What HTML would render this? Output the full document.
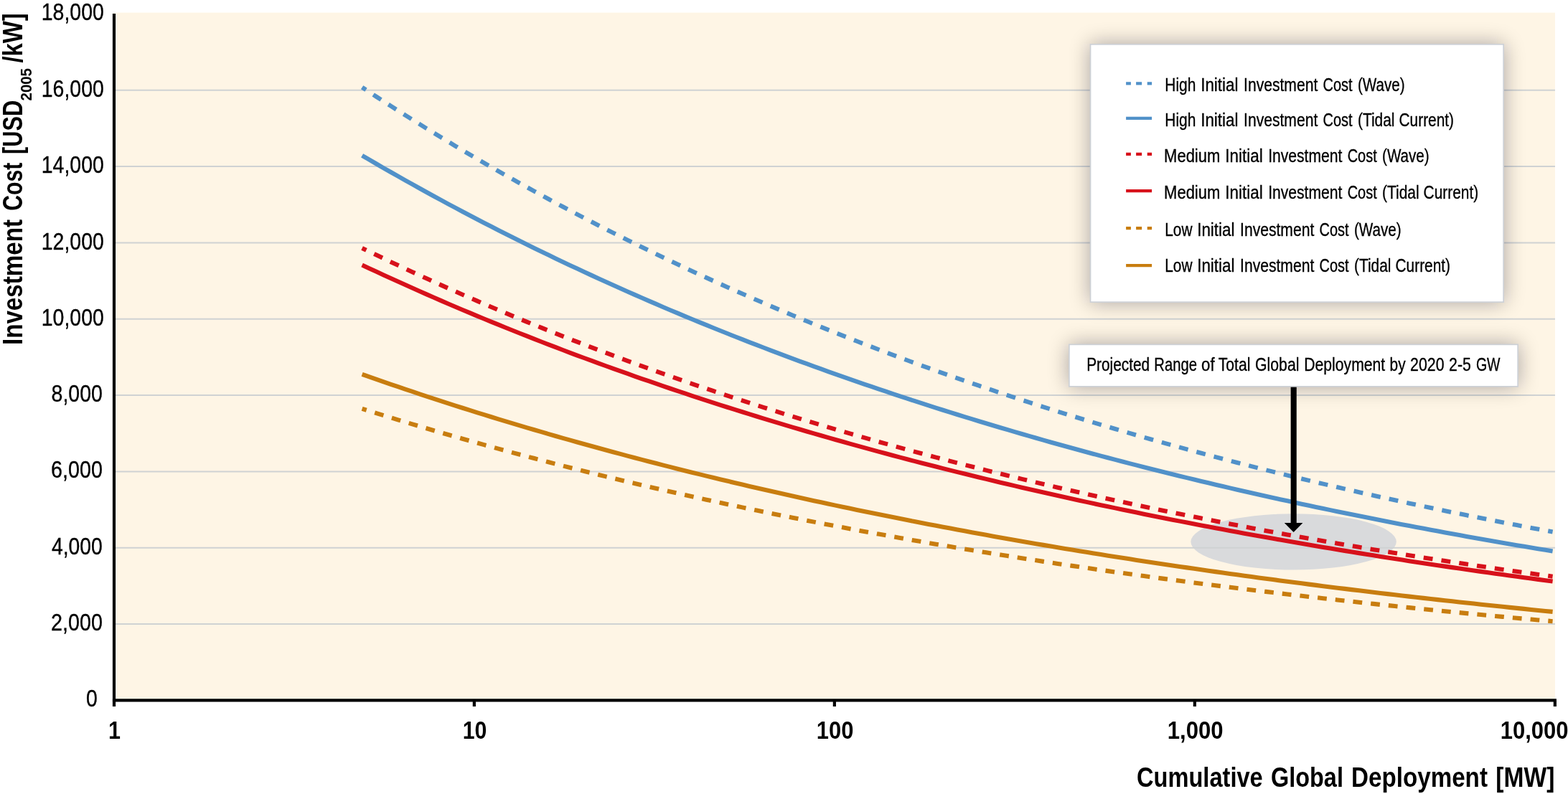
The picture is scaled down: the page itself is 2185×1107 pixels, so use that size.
<!DOCTYPE html>
<html lang="en"><head><meta charset="utf-8"><title>Investment Cost vs Cumulative Global Deployment</title>
<style>html,body{margin:0;padding:0;background:#fff;}body{width:2185px;height:1107px;overflow:hidden;}svg{display:block;}text{font-family:"Liberation Sans",sans-serif;fill:#000;}</style>
</head><body>
<svg width="2185" height="1107" viewBox="0 0 2185 1107">
<defs><filter id="sh" x="-20%" y="-120%" width="140%" height="340%"><feGaussianBlur stdDeviation="14.5"/></filter></defs>
<rect x="0" y="0" width="2185" height="1107" fill="#fff"/>
<rect x="157.0" y="17.7" width="2010.0" height="958.3" fill="#FFFDF1"/>
<rect x="162.2" y="17.7" width="2004.8" height="956.0" fill="#FEF5E5"/>
<ellipse cx="1802.6" cy="755.4" rx="143.2" ry="39.2" fill="#D9DADC"/>
<path d="M161.0,870.04H2167.0M161.0,763.72H2167.0M161.0,657.40H2167.0M161.0,551.08H2167.0M161.0,444.76H2167.0M161.0,338.44H2167.0M161.0,232.12H2167.0M161.0,125.80H2167.0" stroke="#CFD2D3" stroke-width="2" fill="none"/>
<path d="M504.6,121.70 L514.6,128.29 L524.6,134.83 L534.6,141.31 L544.6,147.75 L554.6,154.14 L564.6,160.48 L574.6,166.77 L584.6,173.01 L594.5,179.21 L604.5,185.35 L614.5,191.45 L624.5,197.51 L634.5,203.51 L644.5,209.47 L654.5,215.39 L664.5,221.26 L674.5,227.08 L684.5,232.86 L694.5,238.60 L704.5,244.29 L714.5,249.94 L724.5,255.54 L734.5,261.10 L744.5,266.62 L754.4,272.10 L764.4,277.54 L774.4,282.93 L784.4,288.28 L794.4,293.59 L804.4,298.86 L814.4,304.09 L824.4,309.28 L834.4,314.43 L844.4,319.54 L854.4,324.61 L864.4,329.64 L874.4,334.64 L884.4,339.59 L894.4,344.51 L904.4,349.39 L914.4,354.23 L924.3,359.04 L934.3,363.81 L944.3,368.54 L954.3,373.23 L964.3,377.89 L974.3,382.52 L984.3,387.11 L994.3,391.66 L1004.3,396.18 L1014.3,400.66 L1024.3,405.11 L1034.3,409.52 L1044.3,413.91 L1054.3,418.25 L1064.3,422.57 L1074.3,426.85 L1084.3,431.10 L1094.2,435.31 L1104.2,439.50 L1114.2,443.65 L1124.2,447.77 L1134.2,451.86 L1144.2,455.91 L1154.2,459.94 L1164.2,463.93 L1174.2,467.90 L1184.2,471.83 L1194.2,475.74 L1204.2,479.61 L1214.2,483.45 L1224.2,487.27 L1234.2,491.05 L1244.2,494.81 L1254.1,498.54 L1264.1,502.24 L1274.1,505.91 L1284.1,509.55 L1294.1,513.16 L1304.1,516.75 L1314.1,520.31 L1324.1,523.84 L1334.1,527.35 L1344.1,530.82 L1354.1,534.27 L1364.1,537.70 L1374.1,541.10 L1384.1,544.47 L1394.1,547.82 L1404.1,551.14 L1414.1,554.43 L1424.0,557.70 L1434.0,560.95 L1444.0,564.17 L1454.0,567.37 L1464.0,570.54 L1474.0,573.68 L1484.0,576.81 L1494.0,579.91 L1504.0,582.98 L1514.0,586.03 L1524.0,589.06 L1534.0,592.06 L1544.0,595.05 L1554.0,598.01 L1564.0,600.94 L1574.0,603.86 L1583.9,606.75 L1593.9,609.62 L1603.9,612.46 L1613.9,615.29 L1623.9,618.09 L1633.9,620.88 L1643.9,623.64 L1653.9,626.38 L1663.9,629.09 L1673.9,631.79 L1683.9,634.47 L1693.9,637.13 L1703.9,639.76 L1713.9,642.38 L1723.9,644.98 L1733.9,647.55 L1743.9,650.11 L1753.8,652.64 L1763.8,655.16 L1773.8,657.66 L1783.8,660.14 L1793.8,662.60 L1803.8,665.04 L1813.8,667.46 L1823.8,669.87 L1833.8,672.25 L1843.8,674.62 L1853.8,676.97 L1863.8,679.30 L1873.8,681.61 L1883.8,683.91 L1893.8,686.18 L1903.8,688.44 L1913.8,690.69 L1923.7,692.91 L1933.7,695.12 L1943.7,697.31 L1953.7,699.49 L1963.7,701.65 L1973.7,703.79 L1983.7,705.91 L1993.7,708.02 L2003.7,710.12 L2013.7,712.19 L2023.7,714.25 L2033.7,716.30 L2043.7,718.33 L2053.7,720.34 L2063.7,722.34 L2073.7,724.32 L2083.6,726.29 L2093.6,728.24 L2103.6,730.18 L2113.6,732.10 L2123.6,734.01 L2133.6,735.91 L2143.6,737.79 L2153.6,739.65 L2163.6,741.50" stroke="#5191C9" stroke-width="6.1" fill="none" stroke-dasharray="12.935 12.182" stroke-dashoffset="6.468"/>
<path d="M504.6,216.80 L514.6,222.67 L524.6,228.49 L534.6,234.27 L544.6,240.01 L554.6,245.70 L564.6,251.35 L574.6,256.95 L584.6,262.51 L594.5,268.03 L604.5,273.51 L614.5,278.94 L624.5,284.33 L634.5,289.68 L644.5,294.99 L654.5,300.26 L664.5,305.49 L674.5,310.68 L684.5,315.83 L694.5,320.94 L704.5,326.01 L714.5,331.04 L724.5,336.03 L734.5,340.98 L744.5,345.90 L754.4,350.78 L764.4,355.62 L774.4,360.42 L784.4,365.19 L794.4,369.92 L804.4,374.61 L814.4,379.27 L824.4,383.89 L834.4,388.47 L844.4,393.03 L854.4,397.54 L864.4,402.02 L874.4,406.47 L884.4,410.88 L894.4,415.26 L904.4,419.61 L914.4,423.92 L924.3,428.20 L934.3,432.44 L944.3,436.66 L954.3,440.84 L964.3,444.99 L974.3,449.10 L984.3,453.19 L994.3,457.24 L1004.3,461.26 L1014.3,465.26 L1024.3,469.22 L1034.3,473.15 L1044.3,477.05 L1054.3,480.92 L1064.3,484.76 L1074.3,488.57 L1084.3,492.35 L1094.2,496.11 L1104.2,499.83 L1114.2,503.53 L1124.2,507.19 L1134.2,510.83 L1144.2,514.44 L1154.2,518.03 L1164.2,521.58 L1174.2,525.11 L1184.2,528.61 L1194.2,532.09 L1204.2,535.54 L1214.2,538.96 L1224.2,542.35 L1234.2,545.72 L1244.2,549.06 L1254.1,552.38 L1264.1,555.67 L1274.1,558.94 L1284.1,562.18 L1294.1,565.40 L1304.1,568.59 L1314.1,571.76 L1324.1,574.90 L1334.1,578.02 L1344.1,581.12 L1354.1,584.19 L1364.1,587.23 L1374.1,590.26 L1384.1,593.26 L1394.1,596.24 L1404.1,599.19 L1414.1,602.13 L1424.0,605.04 L1434.0,607.92 L1444.0,610.79 L1454.0,613.63 L1464.0,616.45 L1474.0,619.25 L1484.0,622.03 L1494.0,624.79 L1504.0,627.52 L1514.0,630.24 L1524.0,632.93 L1534.0,635.61 L1544.0,638.26 L1554.0,640.89 L1564.0,643.50 L1574.0,646.10 L1583.9,648.67 L1593.9,651.22 L1603.9,653.75 L1613.9,656.27 L1623.9,658.76 L1633.9,661.24 L1643.9,663.69 L1653.9,666.13 L1663.9,668.55 L1673.9,670.95 L1683.9,673.33 L1693.9,675.69 L1703.9,678.04 L1713.9,680.36 L1723.9,682.67 L1733.9,684.96 L1743.9,687.24 L1753.8,689.49 L1763.8,691.73 L1773.8,693.96 L1783.8,696.16 L1793.8,698.35 L1803.8,700.52 L1813.8,702.67 L1823.8,704.81 L1833.8,706.93 L1843.8,709.04 L1853.8,711.13 L1863.8,713.20 L1873.8,715.26 L1883.8,717.30 L1893.8,719.32 L1903.8,721.33 L1913.8,723.33 L1923.7,725.30 L1933.7,727.27 L1943.7,729.22 L1953.7,731.15 L1963.7,733.07 L1973.7,734.97 L1983.7,736.86 L1993.7,738.74 L2003.7,740.60 L2013.7,742.45 L2023.7,744.28 L2033.7,746.10 L2043.7,747.90 L2053.7,749.69 L2063.7,751.47 L2073.7,753.23 L2083.6,754.98 L2093.6,756.72 L2103.6,758.44 L2113.6,760.15 L2123.6,761.84 L2133.6,763.53 L2143.6,765.20 L2153.6,766.86 L2163.6,768.50" stroke="#5191C9" stroke-width="6.1" fill="none"/>
<path d="M504.6,345.90 L514.6,350.76 L524.6,355.59 L534.6,360.38 L544.6,365.13 L554.6,369.85 L564.6,374.52 L574.6,379.17 L584.6,383.78 L594.5,388.35 L604.5,392.89 L614.5,397.39 L624.5,401.86 L634.5,406.29 L644.5,410.69 L654.5,415.06 L664.5,419.39 L674.5,423.69 L684.5,427.96 L694.5,432.20 L704.5,436.40 L714.5,440.57 L724.5,444.71 L734.5,448.81 L744.5,452.89 L754.4,456.93 L764.4,460.94 L774.4,464.93 L784.4,468.88 L794.4,472.80 L804.4,476.69 L814.4,480.55 L824.4,484.38 L834.4,488.19 L844.4,491.96 L854.4,495.70 L864.4,499.42 L874.4,503.11 L884.4,506.77 L894.4,510.40 L904.4,514.00 L914.4,517.58 L924.3,521.13 L934.3,524.65 L944.3,528.14 L954.3,531.61 L964.3,535.05 L974.3,538.46 L984.3,541.85 L994.3,545.21 L1004.3,548.55 L1014.3,551.86 L1024.3,555.15 L1034.3,558.41 L1044.3,561.64 L1054.3,564.86 L1064.3,568.04 L1074.3,571.20 L1084.3,574.34 L1094.2,577.46 L1104.2,580.55 L1114.2,583.61 L1124.2,586.65 L1134.2,589.67 L1144.2,592.67 L1154.2,595.64 L1164.2,598.59 L1174.2,601.52 L1184.2,604.43 L1194.2,607.31 L1204.2,610.17 L1214.2,613.01 L1224.2,615.83 L1234.2,618.63 L1244.2,621.40 L1254.1,624.15 L1264.1,626.89 L1274.1,629.60 L1284.1,632.29 L1294.1,634.96 L1304.1,637.61 L1314.1,640.24 L1324.1,642.85 L1334.1,645.44 L1344.1,648.01 L1354.1,650.56 L1364.1,653.09 L1374.1,655.60 L1384.1,658.09 L1394.1,660.56 L1404.1,663.01 L1414.1,665.45 L1424.0,667.86 L1434.0,670.26 L1444.0,672.64 L1454.0,675.00 L1464.0,677.35 L1474.0,679.67 L1484.0,681.98 L1494.0,684.27 L1504.0,686.54 L1514.0,688.79 L1524.0,691.03 L1534.0,693.25 L1544.0,695.46 L1554.0,697.64 L1564.0,699.81 L1574.0,701.96 L1583.9,704.10 L1593.9,706.22 L1603.9,708.33 L1613.9,710.41 L1623.9,712.48 L1633.9,714.54 L1643.9,716.58 L1653.9,718.61 L1663.9,720.61 L1673.9,722.61 L1683.9,724.59 L1693.9,726.55 L1703.9,728.50 L1713.9,730.43 L1723.9,732.35 L1733.9,734.25 L1743.9,736.14 L1753.8,738.02 L1763.8,739.88 L1773.8,741.73 L1783.8,743.56 L1793.8,745.38 L1803.8,747.18 L1813.8,748.97 L1823.8,750.75 L1833.8,752.51 L1843.8,754.26 L1853.8,756.00 L1863.8,757.72 L1873.8,759.43 L1883.8,761.12 L1893.8,762.81 L1903.8,764.48 L1913.8,766.14 L1923.7,767.78 L1933.7,769.41 L1943.7,771.03 L1953.7,772.64 L1963.7,774.24 L1973.7,775.82 L1983.7,777.39 L1993.7,778.95 L2003.7,780.50 L2013.7,782.03 L2023.7,783.56 L2033.7,785.07 L2043.7,786.57 L2053.7,788.06 L2063.7,789.53 L2073.7,791.00 L2083.6,792.46 L2093.6,793.90 L2103.6,795.33 L2113.6,796.75 L2123.6,798.16 L2133.6,799.56 L2143.6,800.95 L2153.6,802.33 L2163.6,803.70" stroke="#D7111B" stroke-width="6.1" fill="none" stroke-dasharray="12.900 12.149" stroke-dashoffset="6.450"/>
<path d="M504.6,369.50 L514.6,374.19 L524.6,378.84 L534.6,383.45 L544.6,388.03 L554.6,392.58 L564.6,397.09 L574.6,401.56 L584.6,406.00 L594.5,410.41 L604.5,414.78 L614.5,419.12 L624.5,423.43 L634.5,427.70 L644.5,431.94 L654.5,436.15 L664.5,440.33 L674.5,444.47 L684.5,448.58 L694.5,452.66 L704.5,456.71 L714.5,460.73 L724.5,464.72 L734.5,468.68 L744.5,472.60 L754.4,476.50 L764.4,480.37 L774.4,484.20 L784.4,488.01 L794.4,491.79 L804.4,495.54 L814.4,499.26 L824.4,502.95 L834.4,506.62 L844.4,510.25 L854.4,513.86 L864.4,517.44 L874.4,520.99 L884.4,524.52 L894.4,528.02 L904.4,531.49 L914.4,534.93 L924.3,538.35 L934.3,541.75 L944.3,545.11 L954.3,548.45 L964.3,551.77 L974.3,555.06 L984.3,558.32 L994.3,561.56 L1004.3,564.78 L1014.3,567.97 L1024.3,571.13 L1034.3,574.27 L1044.3,577.39 L1054.3,580.48 L1064.3,583.55 L1074.3,586.60 L1084.3,589.62 L1094.2,592.62 L1104.2,595.60 L1114.2,598.55 L1124.2,601.48 L1134.2,604.39 L1144.2,607.28 L1154.2,610.14 L1164.2,612.99 L1174.2,615.81 L1184.2,618.61 L1194.2,621.38 L1204.2,624.14 L1214.2,626.87 L1224.2,629.59 L1234.2,632.28 L1244.2,634.95 L1254.1,637.61 L1264.1,640.24 L1274.1,642.85 L1284.1,645.44 L1294.1,648.01 L1304.1,650.57 L1314.1,653.10 L1324.1,655.61 L1334.1,658.11 L1344.1,660.58 L1354.1,663.04 L1364.1,665.47 L1374.1,667.89 L1384.1,670.29 L1394.1,672.67 L1404.1,675.04 L1414.1,677.38 L1424.0,679.71 L1434.0,682.02 L1444.0,684.31 L1454.0,686.58 L1464.0,688.84 L1474.0,691.08 L1484.0,693.30 L1494.0,695.51 L1504.0,697.69 L1514.0,699.86 L1524.0,702.02 L1534.0,704.16 L1544.0,706.28 L1554.0,708.39 L1564.0,710.47 L1574.0,712.55 L1583.9,714.61 L1593.9,716.65 L1603.9,718.67 L1613.9,720.68 L1623.9,722.68 L1633.9,724.66 L1643.9,726.62 L1653.9,728.57 L1663.9,730.51 L1673.9,732.43 L1683.9,734.33 L1693.9,736.22 L1703.9,738.10 L1713.9,739.96 L1723.9,741.81 L1733.9,743.64 L1743.9,745.46 L1753.8,747.27 L1763.8,749.06 L1773.8,750.84 L1783.8,752.60 L1793.8,754.35 L1803.8,756.09 L1813.8,757.81 L1823.8,759.52 L1833.8,761.22 L1843.8,762.90 L1853.8,764.57 L1863.8,766.23 L1873.8,767.88 L1883.8,769.51 L1893.8,771.13 L1903.8,772.74 L1913.8,774.34 L1923.7,775.92 L1933.7,777.49 L1943.7,779.05 L1953.7,780.60 L1963.7,782.14 L1973.7,783.66 L1983.7,785.17 L1993.7,786.68 L2003.7,788.16 L2013.7,789.64 L2023.7,791.11 L2033.7,792.56 L2043.7,794.01 L2053.7,795.44 L2063.7,796.86 L2073.7,798.28 L2083.6,799.68 L2093.6,801.07 L2103.6,802.44 L2113.6,803.81 L2123.6,805.17 L2133.6,806.52 L2143.6,807.86 L2153.6,809.18 L2163.6,810.50" stroke="#D7111B" stroke-width="6.1" fill="none"/>
<path d="M504.6,521.90 L514.6,525.42 L524.6,528.91 L534.6,532.37 L544.6,535.81 L554.6,539.22 L564.6,542.60 L574.6,545.96 L584.6,549.29 L594.5,552.60 L604.5,555.88 L614.5,559.14 L624.5,562.37 L634.5,565.57 L644.5,568.76 L654.5,571.91 L664.5,575.05 L674.5,578.16 L684.5,581.24 L694.5,584.31 L704.5,587.34 L714.5,590.36 L724.5,593.35 L734.5,596.32 L744.5,599.27 L754.4,602.19 L764.4,605.09 L774.4,607.97 L784.4,610.83 L794.4,613.67 L804.4,616.48 L814.4,619.27 L824.4,622.04 L834.4,624.79 L844.4,627.52 L854.4,630.23 L864.4,632.92 L874.4,635.58 L884.4,638.23 L894.4,640.85 L904.4,643.46 L914.4,646.04 L924.3,648.61 L934.3,651.16 L944.3,653.68 L954.3,656.19 L964.3,658.68 L974.3,661.15 L984.3,663.60 L994.3,666.03 L1004.3,668.44 L1014.3,670.84 L1024.3,673.21 L1034.3,675.57 L1044.3,677.91 L1054.3,680.23 L1064.3,682.53 L1074.3,684.82 L1084.3,687.09 L1094.2,689.34 L1104.2,691.57 L1114.2,693.79 L1124.2,695.99 L1134.2,698.17 L1144.2,700.34 L1154.2,702.49 L1164.2,704.62 L1174.2,706.74 L1184.2,708.84 L1194.2,710.93 L1204.2,713.00 L1214.2,715.05 L1224.2,717.09 L1234.2,719.11 L1244.2,721.11 L1254.1,723.10 L1264.1,725.08 L1274.1,727.04 L1284.1,728.99 L1294.1,730.92 L1304.1,732.83 L1314.1,734.73 L1324.1,736.62 L1334.1,738.49 L1344.1,740.35 L1354.1,742.19 L1364.1,744.02 L1374.1,745.84 L1384.1,747.64 L1394.1,749.43 L1404.1,751.20 L1414.1,752.96 L1424.0,754.71 L1434.0,756.44 L1444.0,758.16 L1454.0,759.87 L1464.0,761.56 L1474.0,763.24 L1484.0,764.91 L1494.0,766.56 L1504.0,768.21 L1514.0,769.84 L1524.0,771.45 L1534.0,773.06 L1544.0,774.65 L1554.0,776.23 L1564.0,777.80 L1574.0,779.36 L1583.9,780.90 L1593.9,782.44 L1603.9,783.96 L1613.9,785.47 L1623.9,786.96 L1633.9,788.45 L1643.9,789.93 L1653.9,791.39 L1663.9,792.84 L1673.9,794.28 L1683.9,795.71 L1693.9,797.13 L1703.9,798.54 L1713.9,799.94 L1723.9,801.33 L1733.9,802.70 L1743.9,804.07 L1753.8,805.42 L1763.8,806.77 L1773.8,808.10 L1783.8,809.43 L1793.8,810.74 L1803.8,812.04 L1813.8,813.34 L1823.8,814.62 L1833.8,815.90 L1843.8,817.16 L1853.8,818.42 L1863.8,819.66 L1873.8,820.90 L1883.8,822.13 L1893.8,823.34 L1903.8,824.55 L1913.8,825.75 L1923.7,826.94 L1933.7,828.12 L1943.7,829.29 L1953.7,830.45 L1963.7,831.60 L1973.7,832.75 L1983.7,833.88 L1993.7,835.01 L2003.7,836.13 L2013.7,837.24 L2023.7,838.34 L2033.7,839.43 L2043.7,840.52 L2053.7,841.59 L2063.7,842.66 L2073.7,843.72 L2083.6,844.77 L2093.6,845.82 L2103.6,846.85 L2113.6,847.88 L2123.6,848.90 L2133.6,849.91 L2143.6,850.91 L2153.6,851.91 L2163.6,852.90" stroke="#C87D0F" stroke-width="6.1" fill="none"/>
<path d="M504.6,569.80 L514.6,572.95 L524.6,576.07 L534.6,579.17 L544.6,582.25 L554.6,585.30 L564.6,588.33 L574.6,591.34 L584.6,594.32 L594.5,597.28 L604.5,600.22 L614.5,603.14 L624.5,606.03 L634.5,608.90 L644.5,611.75 L654.5,614.58 L664.5,617.38 L674.5,620.17 L684.5,622.93 L694.5,625.67 L704.5,628.39 L714.5,631.09 L724.5,633.77 L734.5,636.43 L744.5,639.07 L754.4,641.69 L764.4,644.28 L774.4,646.86 L784.4,649.42 L794.4,651.96 L804.4,654.48 L814.4,656.98 L824.4,659.46 L834.4,661.92 L844.4,664.36 L854.4,666.79 L864.4,669.19 L874.4,671.58 L884.4,673.95 L894.4,676.30 L904.4,678.63 L914.4,680.95 L924.3,683.25 L934.3,685.53 L944.3,687.79 L954.3,690.03 L964.3,692.26 L974.3,694.47 L984.3,696.67 L994.3,698.84 L1004.3,701.00 L1014.3,703.15 L1024.3,705.28 L1034.3,707.39 L1044.3,709.48 L1054.3,711.56 L1064.3,713.62 L1074.3,715.67 L1084.3,717.70 L1094.2,719.72 L1104.2,721.72 L1114.2,723.70 L1124.2,725.67 L1134.2,727.63 L1144.2,729.57 L1154.2,731.49 L1164.2,733.40 L1174.2,735.30 L1184.2,737.18 L1194.2,739.05 L1204.2,740.90 L1214.2,742.74 L1224.2,744.56 L1234.2,746.37 L1244.2,748.17 L1254.1,749.95 L1264.1,751.72 L1274.1,753.48 L1284.1,755.22 L1294.1,756.95 L1304.1,758.66 L1314.1,760.37 L1324.1,762.05 L1334.1,763.73 L1344.1,765.39 L1354.1,767.05 L1364.1,768.68 L1374.1,770.31 L1384.1,771.92 L1394.1,773.52 L1404.1,775.11 L1414.1,776.69 L1424.0,778.25 L1434.0,779.80 L1444.0,781.35 L1454.0,782.87 L1464.0,784.39 L1474.0,785.90 L1484.0,787.39 L1494.0,788.87 L1504.0,790.34 L1514.0,791.80 L1524.0,793.25 L1534.0,794.69 L1544.0,796.12 L1554.0,797.53 L1564.0,798.94 L1574.0,800.33 L1583.9,801.71 L1593.9,803.09 L1603.9,804.45 L1613.9,805.80 L1623.9,807.14 L1633.9,808.47 L1643.9,809.79 L1653.9,811.10 L1663.9,812.41 L1673.9,813.70 L1683.9,814.98 L1693.9,816.25 L1703.9,817.51 L1713.9,818.76 L1723.9,820.00 L1733.9,821.24 L1743.9,822.46 L1753.8,823.67 L1763.8,824.88 L1773.8,826.07 L1783.8,827.26 L1793.8,828.44 L1803.8,829.61 L1813.8,830.76 L1823.8,831.91 L1833.8,833.06 L1843.8,834.19 L1853.8,835.31 L1863.8,836.43 L1873.8,837.54 L1883.8,838.63 L1893.8,839.72 L1903.8,840.81 L1913.8,841.88 L1923.7,842.94 L1933.7,844.00 L1943.7,845.05 L1953.7,846.09 L1963.7,847.12 L1973.7,848.15 L1983.7,849.17 L1993.7,850.18 L2003.7,851.18 L2013.7,852.17 L2023.7,853.16 L2033.7,854.14 L2043.7,855.11 L2053.7,856.07 L2063.7,857.03 L2073.7,857.98 L2083.6,858.92 L2093.6,859.85 L2103.6,860.78 L2113.6,861.70 L2123.6,862.62 L2133.6,863.52 L2143.6,864.42 L2153.6,865.31 L2163.6,866.20" stroke="#C87D0F" stroke-width="6.1" fill="none" stroke-dasharray="12.789 12.044" stroke-dashoffset="6.394"/>
<path d="M159.0,19V985" stroke="#000" stroke-width="4.2" fill="none"/>
<path d="M156.9,976.4H2168.9" stroke="#000" stroke-width="4.1" fill="none"/>
<path d="M660.85,976.4V985M1162.85,976.4V985M1664.85,976.4V985M2166.85,976.4V985" stroke="#000" stroke-width="4.2" fill="none"/>
<rect x="1518.7" y="61.0" width="577.3" height="361.0" fill="#000018" opacity="0.33" filter="url(#sh)"/>
<rect x="1519.55" y="61.85" width="575.6" height="359.3" fill="#fff" stroke="#CDD1D6" stroke-width="1.7"/>
<rect x="1489.0" y="479.5" width="627.0" height="60.2" fill="#000018" opacity="0.33" filter="url(#sh)"/>
<rect x="1489.85" y="480.35" width="625.3" height="58.5" fill="#fff" stroke="#CDD1D6" stroke-width="1.7"/>
<path d="M1569.1,116.40H1575.9M1583.1,116.40H1591.15M1598.7,116.40H1605.1" stroke="#5191C9" stroke-width="4.3" fill="none"/>
<path d="M1569.1,164.90H1605.1" stroke="#5191C9" stroke-width="4.3" fill="none"/>
<path d="M1569.1,214.80H1575.9M1583.1,214.80H1591.15M1598.7,214.80H1605.1" stroke="#D7111B" stroke-width="4.3" fill="none"/>
<path d="M1569.1,266.10H1605.1" stroke="#D7111B" stroke-width="4.3" fill="none"/>
<path d="M1569.1,318.10H1575.9M1583.1,318.10H1591.15M1598.7,318.10H1605.1" stroke="#C87D0F" stroke-width="4.3" fill="none"/>
<path d="M1569.1,370.10H1605.1" stroke="#C87D0F" stroke-width="4.3" fill="none"/>
<path d="M1802.7,539.7V731" stroke="#000" stroke-width="8.1" fill="none"/>
<path d="M1789.8,729H1815.4L1802.6,742Z" fill="#000"/>
<text transform="translate(57.72,28.00) scale(0.8761,1)" font-size="32.5" font-weight="400" stroke="#000" stroke-width="0.35">18,000</text>
<text transform="translate(57.72,134.90) scale(0.8761,1)" font-size="32.5" font-weight="400" stroke="#000" stroke-width="0.35">16,000</text>
<text transform="translate(57.72,241.20) scale(0.8761,1)" font-size="32.5" font-weight="400" stroke="#000" stroke-width="0.35">14,000</text>
<text transform="translate(57.72,347.70) scale(0.8761,1)" font-size="32.5" font-weight="400" stroke="#000" stroke-width="0.35">12,000</text>
<text transform="translate(57.72,453.80) scale(0.8761,1)" font-size="32.5" font-weight="400" stroke="#000" stroke-width="0.35">10,000</text>
<text transform="translate(71.51,559.90) scale(0.8779,1)" font-size="32.5" font-weight="400" stroke="#000" stroke-width="0.35">8,000</text>
<text transform="translate(71.05,666.20) scale(0.8836,1)" font-size="32.5" font-weight="400" stroke="#000" stroke-width="0.35">6,000</text>
<text transform="translate(71.96,772.50) scale(0.8724,1)" font-size="32.5" font-weight="400" stroke="#000" stroke-width="0.35">4,000</text>
<text transform="translate(71.05,878.80) scale(0.8836,1)" font-size="32.5" font-weight="400" stroke="#000" stroke-width="0.35">2,000</text>
<text transform="translate(120.11,984.90) scale(0.8738,1)" font-size="32.5" font-weight="400" stroke="#000" stroke-width="0.35">0</text>
<text transform="translate(150.89,1030.00) scale(0.8618,1)" font-size="35.4" font-weight="700">1</text>
<text transform="translate(644.81,1030.00) scale(0.8537,1)" font-size="35.4" font-weight="700">10</text>
<text transform="translate(1137.87,1030.00) scale(0.8716,1)" font-size="35.4" font-weight="700">100</text>
<text transform="translate(1626.86,1030.00) scale(0.8771,1)" font-size="35.4" font-weight="700">1,000</text>
<text transform="translate(2090.77,1030.00) scale(0.8745,1)" font-size="35.4" font-weight="700">10,000</text>
<text transform="translate(1583.88,1096.80) scale(0.8369,1)" font-size="39.0" font-weight="700">Cumulative </text>
<text transform="translate(1770.99,1096.80) scale(0.8318,1)" font-size="39.0" font-weight="700">Global </text>
<text transform="translate(1883.03,1096.80) scale(0.8510,1)" font-size="39.0" font-weight="700">Deployment </text>
<text transform="translate(2084.32,1096.80) scale(0.8619,1)" font-size="39.0" font-weight="700">[MW]</text>
<text transform="translate(31.20,481.07) rotate(-90) scale(0.8506,1)" font-size="39.0" font-weight="700">Investment </text>
<text transform="translate(31.20,293.84) rotate(-90) scale(0.7741,1)" font-size="39.0" font-weight="700">Cost </text>
<text transform="translate(31.20,214.94) rotate(-90) scale(0.7889,1)" font-size="39.0" font-weight="700">[USD</text>
<text transform="translate(43.90,140.44) rotate(-90) scale(0.9223,1)" font-size="22.1" font-weight="700">2005 </text>
<text transform="translate(31.20,87.50) rotate(-90) scale(0.8406,1)" font-size="39.0" font-weight="700">/kW]</text>
<text transform="translate(1623.26,126.85) scale(0.8125,1)" font-size="25.8" font-weight="400" stroke="#000" stroke-width="0.35">High </text>
<text transform="translate(1673.15,126.85) scale(0.8706,1)" font-size="25.8" font-weight="400" stroke="#000" stroke-width="0.35">Initial </text>
<text transform="translate(1733.05,126.85) scale(0.8184,1)" font-size="25.8" font-weight="400" stroke="#000" stroke-width="0.35">Investment </text>
<text transform="translate(1843.56,126.85) scale(0.7742,1)" font-size="25.8" font-weight="400" stroke="#000" stroke-width="0.35">Cost </text>
<text transform="translate(1891.93,126.85) scale(0.7987,1)" font-size="25.8" font-weight="400" stroke="#000" stroke-width="0.35">(Wave)</text>
<text transform="translate(1623.26,175.90) scale(0.8125,1)" font-size="25.8" font-weight="400" stroke="#000" stroke-width="0.35">High </text>
<text transform="translate(1673.15,175.90) scale(0.8706,1)" font-size="25.8" font-weight="400" stroke="#000" stroke-width="0.35">Initial </text>
<text transform="translate(1733.05,175.90) scale(0.8184,1)" font-size="25.8" font-weight="400" stroke="#000" stroke-width="0.35">Investment </text>
<text transform="translate(1843.56,175.90) scale(0.7742,1)" font-size="25.8" font-weight="400" stroke="#000" stroke-width="0.35">Cost </text>
<text transform="translate(1891.92,175.90) scale(0.8113,1)" font-size="25.8" font-weight="400" stroke="#000" stroke-width="0.35">(Tidal </text>
<text transform="translate(1949.52,175.90) scale(0.8091,1)" font-size="25.8" font-weight="400" stroke="#000" stroke-width="0.35">Current)</text>
<text transform="translate(1622.08,225.90) scale(0.8528,1)" font-size="25.8" font-weight="400" stroke="#000" stroke-width="0.35">Medium </text>
<text transform="translate(1707.25,225.90) scale(0.8706,1)" font-size="25.8" font-weight="400" stroke="#000" stroke-width="0.35">Initial </text>
<text transform="translate(1767.15,225.90) scale(0.8184,1)" font-size="25.8" font-weight="400" stroke="#000" stroke-width="0.35">Investment </text>
<text transform="translate(1877.66,225.90) scale(0.7742,1)" font-size="25.8" font-weight="400" stroke="#000" stroke-width="0.35">Cost </text>
<text transform="translate(1926.03,225.90) scale(0.7987,1)" font-size="25.8" font-weight="400" stroke="#000" stroke-width="0.35">(Wave)</text>
<text transform="translate(1622.08,276.85) scale(0.8528,1)" font-size="25.8" font-weight="400" stroke="#000" stroke-width="0.35">Medium </text>
<text transform="translate(1707.25,276.85) scale(0.8706,1)" font-size="25.8" font-weight="400" stroke="#000" stroke-width="0.35">Initial </text>
<text transform="translate(1767.15,276.85) scale(0.8184,1)" font-size="25.8" font-weight="400" stroke="#000" stroke-width="0.35">Investment </text>
<text transform="translate(1877.66,276.85) scale(0.7742,1)" font-size="25.8" font-weight="400" stroke="#000" stroke-width="0.35">Cost </text>
<text transform="translate(1926.02,276.85) scale(0.8113,1)" font-size="25.8" font-weight="400" stroke="#000" stroke-width="0.35">(Tidal </text>
<text transform="translate(1983.62,276.85) scale(0.8091,1)" font-size="25.8" font-weight="400" stroke="#000" stroke-width="0.35">Current)</text>
<text transform="translate(1623.27,328.85) scale(0.8065,1)" font-size="25.8" font-weight="400" stroke="#000" stroke-width="0.35">Low </text>
<text transform="translate(1668.15,328.85) scale(0.8706,1)" font-size="25.8" font-weight="400" stroke="#000" stroke-width="0.35">Initial </text>
<text transform="translate(1728.05,328.85) scale(0.8184,1)" font-size="25.8" font-weight="400" stroke="#000" stroke-width="0.35">Investment </text>
<text transform="translate(1838.56,328.85) scale(0.7742,1)" font-size="25.8" font-weight="400" stroke="#000" stroke-width="0.35">Cost </text>
<text transform="translate(1886.93,328.85) scale(0.7987,1)" font-size="25.8" font-weight="400" stroke="#000" stroke-width="0.35">(Wave)</text>
<text transform="translate(1623.27,379.05) scale(0.8065,1)" font-size="25.8" font-weight="400" stroke="#000" stroke-width="0.35">Low </text>
<text transform="translate(1668.15,379.05) scale(0.8706,1)" font-size="25.8" font-weight="400" stroke="#000" stroke-width="0.35">Initial </text>
<text transform="translate(1728.05,379.05) scale(0.8184,1)" font-size="25.8" font-weight="400" stroke="#000" stroke-width="0.35">Investment </text>
<text transform="translate(1838.56,379.05) scale(0.7742,1)" font-size="25.8" font-weight="400" stroke="#000" stroke-width="0.35">Cost </text>
<text transform="translate(1886.92,379.05) scale(0.8113,1)" font-size="25.8" font-weight="400" stroke="#000" stroke-width="0.35">(Tidal </text>
<text transform="translate(1944.52,379.05) scale(0.8091,1)" font-size="25.8" font-weight="400" stroke="#000" stroke-width="0.35">Current)</text>
<text transform="translate(1514.17,516.85) scale(0.8083,1)" font-size="25.8" font-weight="400" stroke="#000" stroke-width="0.35">Projected </text>
<text transform="translate(1608.32,516.85) scale(0.7839,1)" font-size="25.8" font-weight="400" stroke="#000" stroke-width="0.35">Range </text>
<text transform="translate(1674.11,516.85) scale(0.8606,1)" font-size="25.8" font-weight="400" stroke="#000" stroke-width="0.35">of </text>
<text transform="translate(1697.77,516.85) scale(0.8188,1)" font-size="25.8" font-weight="400" stroke="#000" stroke-width="0.35">Total </text>
<text transform="translate(1749.11,516.85) scale(0.8225,1)" font-size="25.8" font-weight="400" stroke="#000" stroke-width="0.35">Global </text>
<text transform="translate(1817.24,516.85) scale(0.8214,1)" font-size="25.8" font-weight="400" stroke="#000" stroke-width="0.35">Deployment </text>
<text transform="translate(1936.60,516.85) scale(0.8075,1)" font-size="25.8" font-weight="400" stroke="#000" stroke-width="0.35">by </text>
<text transform="translate(1965.10,516.85) scale(0.8264,1)" font-size="25.8" font-weight="400" stroke="#000" stroke-width="0.35">2020 </text>
<text transform="translate(2019.10,516.85) scale(0.8249,1)" font-size="25.8" font-weight="400" stroke="#000" stroke-width="0.35">2-5 </text>
<text transform="translate(2056.88,516.85) scale(0.7572,1)" font-size="25.8" font-weight="400" stroke="#000" stroke-width="0.35">GW</text>
</svg>
</body></html>
